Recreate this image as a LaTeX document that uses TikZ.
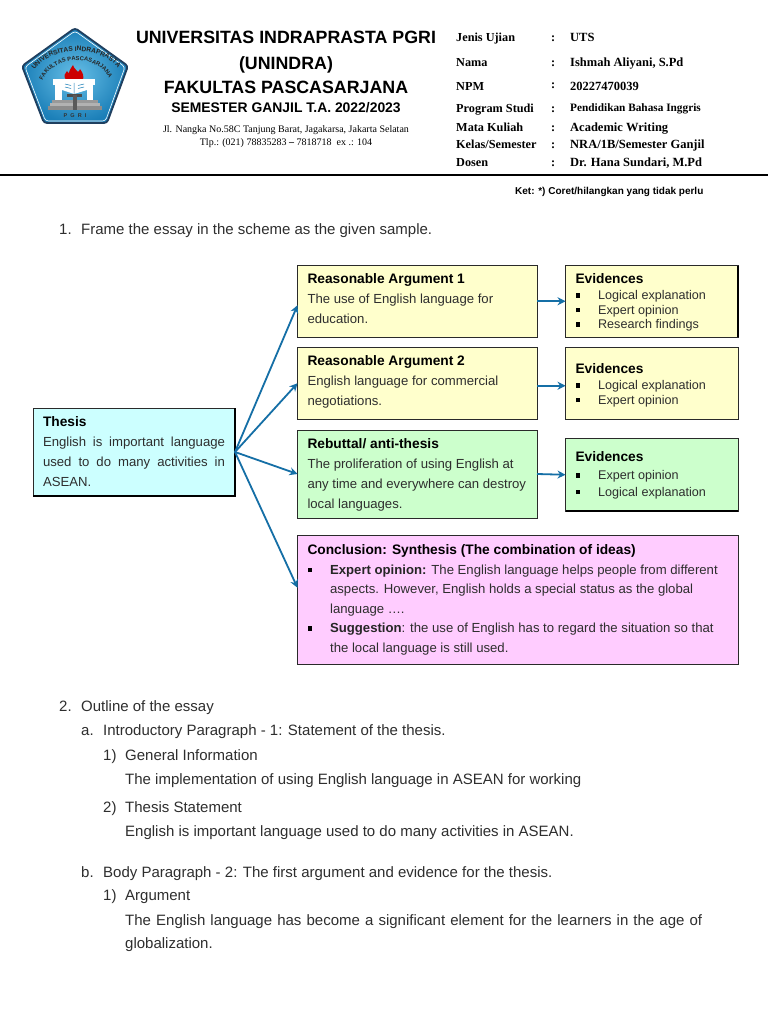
\documentclass[tikz,border=0pt]{standalone}
\usepackage{fontspec}
\setmainfont{Liberation Sans}
\setsansfont{Liberation Sans}
\newfontfamily\serifface{Liberation Serif}
\usetikzlibrary{calc,decorations.text,arrows.meta}
\definecolor{bodyc}{HTML}{2E2E2E}
\definecolor{arrowc}{HTML}{156FA6}
\definecolor{boxline}{HTML}{2A2A2A}
\definecolor{yel}{HTML}{FFFFCC}
\definecolor{cya}{HTML}{CCFFFF}
\definecolor{gre}{HTML}{CCFFCC}
\definecolor{mag}{HTML}{FFCCFF}
\definecolor{logoblue}{HTML}{25A3DC}
\definecolor{logodark}{HTML}{1B7FB8}
\definecolor{logoedge}{HTML}{1F3F5F}
\newcommand\fs[1]{\fontsize{#1}{#1}\selectfont}
% a line placed at an exact baseline: gap from the previous baseline, then content
\newcommand\Ln[2]{\vskip#1pt\setbox0\hbox{#2}\ht0=0pt \dp0=0pt \box0 }
% a box body of exact size
\newcommand\Body[3]{\vbox to #2pt{\offinterlineskip\hrule width #1pt height 0pt #3\vss}}
\newcommand\sq{\rule[1.9pt]{4.6pt}{4.6pt}}
\newcommand\Title[1]{\hskip10pt{\fs{13.75}\bfseries\color{black}#1}}
\newcommand\Txt[1]{\hskip10pt{\fs{13.15}\color{bodyc}#1}}
\newcommand\Ev[1]{\hskip10pt\sq\hskip18pt{\fs{12.6}\color{bodyc}#1}}
\newcommand\Bu[1]{\hskip10pt\sq\hskip18pt{\fs{13.15}\color{bodyc}#1}}
\tikzset{
  x=1pt,y=-1pt,
  box/.style={draw=boxline,line width=.85pt,inner sep=0pt,outer sep=0pt,anchor=north west},
  link/.style={draw=arrowc,line width=1.8pt,-{Stealth[length=8pt,width=8pt]}},
  edge/.style={draw=black,line width=1.4pt},
  txt/.style={anchor=base west,inner sep=0pt},
  ctr/.style={anchor=base,inner sep=0pt},
  hd/.style={ctr,font=\fs{17.8}\bfseries},
  doc/.style={txt,font=\fs{15},text=bodyc},
  info/.style={txt,font=\fs{12.25}\serifface\bfseries},
  val/.style={txt,font=\fs{12.5}\serifface\bfseries},
}
\begin{document}
\begin{tikzpicture}
\useasboundingbox (0,0) rectangle (768,1024);
\fill[white] (0,0) rectangle (768,1024);

% logo
\draw[draw=logoedge,line width=1.8pt,rounded corners=3pt,inner color=logoblue!70!white,outer color=logodark,shade]
  (75,28) -- (128,66) -- (107,123) -- (44,123) -- (22,66) -- cycle;
\draw[white,line width=.6pt,rounded corners=3pt]
  (75,31) -- (125,67) -- (105.5,121) -- (45.5,121) -- (25,67) -- cycle;
\path[postaction={decorate,decoration={text along path,text align=center,
  text={|\fs{6.6}\bfseries\color{black!85}|UNIVERSITAS INDRAPRASTA}}}]
  (30,82) .. controls (37,41) and (115,41) .. (123,80);
\path[postaction={decorate,decoration={text along path,text align=center,
  text={|\fs{5.8}\bfseries\color{black!85}|FAKULTAS PASCASARJANA}}}]
  (41,87) .. controls (47,52) and (105,52) .. (111,85);
\fill[red!80!black] (73,65) .. controls (74,69) and (77,70) .. (78,72) .. controls (79,71) and (80,70) .. (80,69)
  .. controls (83,73) and (84,76) .. (83,80) -- (66,80) .. controls (63,76) and (65,73) .. (67,71)
  .. controls (68,72) and (68,73) .. (69,73) .. controls (69,71) and (71,68) .. (73,65) -- cycle;
\fill[white] (53,79) rectangle (95,85);
\fill[white] (55,85) rectangle (62,102);
\fill[white] (87,85) rectangle (93,102);
\fill[white] (62,80) -- (74,83) -- (87,80) -- (87,90) -- (74,94) -- (62,90) -- cycle;
\draw[logodark,line width=.5pt] (74,83) -- (74,94) (65,84) -- (71,85.5) (65,87) -- (71,88.5) (78,85.5) -- (84,84) (78,88.5) -- (84,87);
\fill[black!70] (67,94) rectangle (82,97);
\fill[black!40] (52,100) rectangle (98,103);
\fill[black!30] (50,103) rectangle (100,106);
\fill[black!45] (48,106) rectangle (102,110);
\fill[black!65] (73,95) rectangle (77,110);
\node[ctr,font=\fs{5.5}\bfseries,text=black!80] (pgri) at (75,117.5) {P\ \ G\ \ R\ \ I};

% heading
\node[hd] (h1) at (286,43.5) {UNIVERSITAS INDRAPRASTA PGRI};
\node[hd] (h2) at (286,69.5) {(UNINDRA)};
\node[hd] (h3) at (286,94) {FAKULTAS PASCASARJANA};
\node[ctr,font=\fs{13.9}\bfseries] (h4) at (286,112.5) {SEMESTER GANJIL T.A. 2022/2023};
\node[ctr,font=\fs{10}\serifface] (h5) at (286,133) {Jl. Nangka No.58C Tanjung Barat, Jagakarsa, Jakarta Selatan};
\node[ctr,font=\fs{10}\serifface] (h6) at (286,146) {Tlp.: (021) 78835283 \textbf{–} 7818718\ \ ex .: 104};

% info table
\node[info] (l1) at (456,42) {Jenis Ujian};   \node[info] (c1) at (551,42) {:};  \node[val] (v1) at (570,42) {UTS};
\node[info] (l2) at (456,67) {Nama};          \node[info] (c2) at (551,67) {:};  \node[val] (v2) at (570,67) {Ishmah Aliyani, S.Pd};
\node[info] (l3) at (456,91) {NPM};           \node[info] (c3) at (551,89) {:};  \node[val] (v3) at (570,91) {20227470039};
\node[info] (l4) at (456,113) {Program Studi};\node[info] (c4) at (551,113) {:}; \node[txt,font=\fs{11.3}\serifface\bfseries] (v4) at (570,112) {Pendidikan Bahasa Inggris};
\node[info] (l5) at (456,132) {Mata Kuliah};  \node[info] (c5) at (551,132) {:}; \node[val] (v5) at (570,132) {Academic Writing};
\node[info] (l6) at (456,149) {Kelas/Semester};\node[info] (c6) at (551,149) {:};\node[val] (v6) at (570,149) {NRA/1B/Semester Ganjil};
\node[info] (l7) at (456,167) {Dosen};        \node[info] (c7) at (551,167) {:}; \node[val] (v7) at (570,167) {Dr. Hana Sundari, M.Pd};

\draw[black,line width=2.2pt] (0,175) coordinate (ruleL) -- (768,175) coordinate (ruleR);
\node[txt,font=\fs{10}\bfseries] (ket) at (515,195) {Ket: *) Coret/hilangkan yang tidak perlu};

% body text top
\node[doc] (n1) at (59,234) {1.};
\node[doc] (n1t) at (81,234) {Frame the essay in the scheme as the given sample.};

% diagram boxes
\node[box,fill=cya] (thesis) at (33,408) {\Body{202}{88}{%
  \Ln{18}{\Title{Thesis}}
  \Ln{20}{\Txt{\hbox to 182pt{English\hfil is\hfil important\hfil language}}}
  \Ln{20}{\Txt{\hbox to 182pt{used\hfil to\hfil do\hfil many\hfil activities\hfil in}}}
  \Ln{20}{\Txt{ASEAN.}}}};
\node[box,fill=yel] (r1) at (297.5,265.5) {\Body{239.5}{71.5}{%
  \Ln{18}{\Title{Reasonable Argument 1}}
  \Ln{20}{\Txt{The use of English language for}}
  \Ln{20}{\Txt{education.}}}};
\node[box,fill=yel] (r2) at (297.5,347.5) {\Body{239.5}{71.5}{%
  \Ln{18}{\Title{Reasonable Argument 2}}
  \Ln{20}{\Txt{English language for commercial}}
  \Ln{20}{\Txt{negotiations.}}}};
\node[box,fill=gre] (r3) at (297.5,430) {\Body{239.5}{88}{%
  \Ln{18}{\Title{Rebuttal/ anti-thesis}}
  \Ln{20}{\Txt{The proliferation of using English at}}
  \Ln{20}{\Txt{any time and everywhere can destroy}}
  \Ln{20}{\Txt{local languages.}}}};
\node[box,fill=yel] (e1) at (565.5,265.5) {\Body{172.5}{71.5}{%
  \Ln{18}{\Title{Evidences}}
  \Ln{16}{\Ev{Logical explanation}}
  \Ln{14.5}{\Ev{Expert opinion}}
  \Ln{14.5}{\Ev{Research findings}}}};
\node[box,fill=yel] (e2) at (565.5,347.5) {\Body{172.5}{71.5}{%
  \Ln{26}{\Title{Evidences}}
  \Ln{16}{\Ev{Logical explanation}}
  \Ln{14.5}{\Ev{Expert opinion}}}};
\node[box,fill=gre] (e3) at (565.5,438.5) {\Body{172.5}{72.5}{%
  \Ln{23}{\Title{Evidences}}
  \Ln{18}{\Ev{Expert opinion}}
  \Ln{16.5}{\Ev{Logical explanation}}}};
\node[box,fill=mag] (concl) at (297.5,535.5) {\Body{440.5}{128.5}{%
  \Ln{19}{\Title{Conclusion: Synthesis (The combination of ideas)}}
  \Ln{19.5}{\Bu{{\bfseries\color{black!85}Expert opinion:} The English language helps people from different}}
  \Ln{19.5}{\Txt{\hskip22.6pt aspects. However, English holds a special status as the global}}
  \Ln{19.5}{\Txt{\hskip22.6pt language ….}}
  \Ln{19.5}{\Bu{{\bfseries\color{black!85}Suggestion}: the use of English has to regard the situation so that}}
  \Ln{19.5}{\Txt{\hskip22.6pt the local language is still used.}}}};

% heavier box edges
\draw[edge] (thesis.north east) -- (thesis.south east) -- (thesis.south west);
\draw[edge] (e1.north east) -- (e1.south east);
\draw[edge] (e3.south west) -- (e3.south east);

% connectors
\draw[link] (thesis.east) -- ($(r1.west)+(0,4)$);
\draw[link] (thesis.east) -- (r2.west);
\draw[link] (thesis.east) -- (r3.west);
\draw[link] (thesis.east) -- ($(concl.west)+(0,-12)$);
\draw[link] (r1.east) -- (e1.west);
\draw[link] ($(r2.east)+(0,2.5)$) -- ($(e2.west)+(0,2.5)$);
\draw[link] (r3.east) -- (e3.west);

% body text bottom
\node[doc] (n2) at (59,711) {2.};
\node[doc] (n2t) at (81,711) {Outline of the essay};
\node[doc] (a) at (81,735) {a.};
\node[doc] (at) at (103,735) {Introductory Paragraph - 1: Statement of the thesis.};
\node[doc] (a1) at (103,760) {1)};
\node[doc] (a1t) at (125,760) {General Information};
\node[doc] (a1b) at (125,784) {The implementation of using English language in ASEAN for working};
\node[doc] (a2) at (103,812) {2)};
\node[doc] (a2t) at (125,812) {Thesis Statement};
\node[doc] (a2b) at (125,836) {English is important language used to do many activities in ASEAN.};
\node[doc] (b) at (81,877) {b.};
\node[doc] (bt) at (103,877) {Body Paragraph - 2: The first argument and evidence for the thesis.};
\node[doc] (b1) at (103,900) {1)};
\node[doc] (b1t) at (125,900) {Argument};
\node[doc] (b1b) at (125,925) {\hbox to 577pt{The\hfil English\hfil language\hfil has\hfil become\hfil a\hfil significant\hfil element\hfil for\hfil the\hfil learners\hfil in\hfil the\hfil age\hfil of}};
\node[doc] (b1c) at (125,948) {globalization.};
\end{tikzpicture}
\end{document}
